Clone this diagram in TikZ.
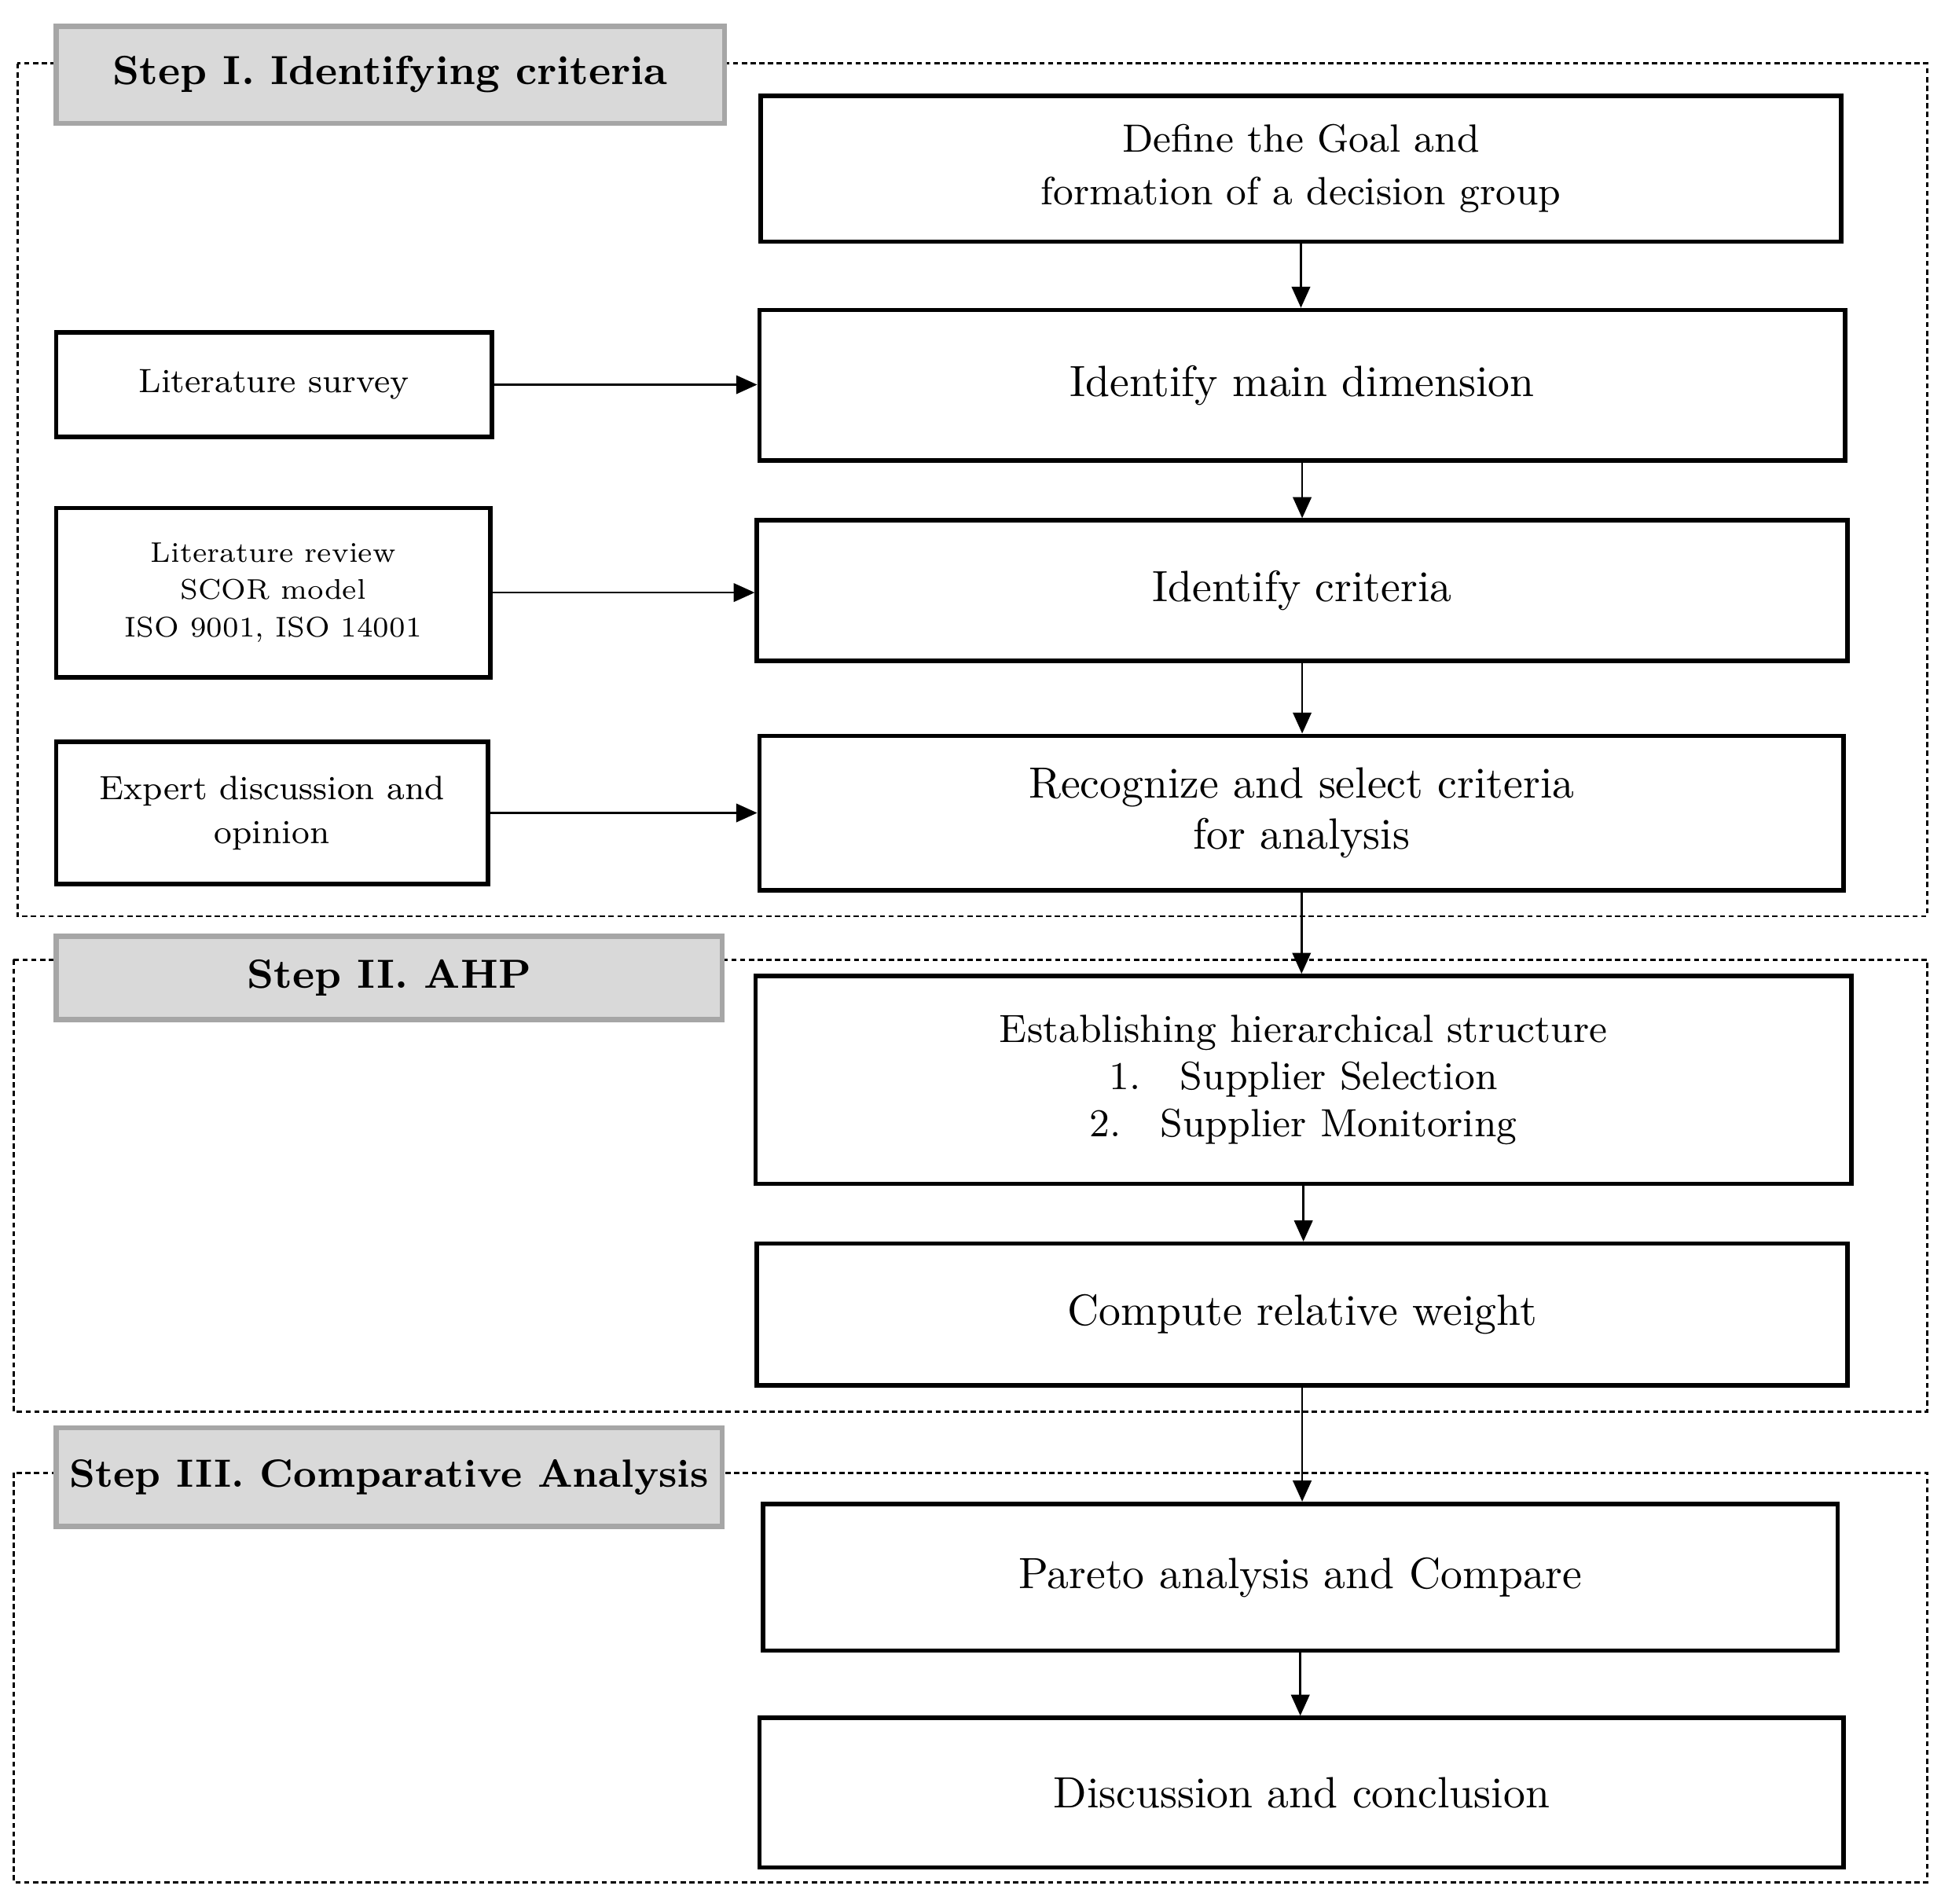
\documentclass[tikz,border=0pt]{standalone}
\usetikzlibrary{arrows.meta}
\definecolor{stepfill}{HTML}{D9D9D9}
\definecolor{stepline}{HTML}{A6A6A6}

\begin{document}
\begin{tikzpicture}[
        >={Triangle[length=4.8pt,width=4.2pt]},
        mainbox/.style={draw, line width=1pt, align=center, inner sep=0pt, font=\fontsize{10}{11.6}\selectfont},
        sidebox/.style={draw, line width=1pt, align=center, inner sep=0pt, font=\fontsize{7.7}{10}\selectfont},
        stepbox/.style={draw=stepline, fill=stepfill, line width=1.2pt, inner sep=0pt, font=\fontsize{9.3}{11}\selectfont\bfseries},
        frame/.style={dash pattern=on 1.2pt off 0.8pt, line width=0.5pt},
        link/.style={->, line width=0.5pt}
    ]
                \useasboundingbox (0cm,0cm) rectangle (15.68cm,-15.29cm);

                % draw the dashed frames of the three steps
                \draw[frame] (0.14cm,-0.51cm) rectangle (15.48cm,-7.36cm);
                \draw[frame] (0.11cm,-7.71cm) rectangle (15.48cm,-11.34cm);
                \draw[frame] (0.11cm,-11.83cm) rectangle (15.48cm,-15.12cm);

                % step titles
                \node[stepbox, minimum width=5.37cm, minimum height=0.78cm] (stepI) at (3.135cm,-0.60cm) {Step I. Identifying criteria};
                \node[stepbox, minimum width=5.35cm, minimum height=0.67cm] (stepII) at (3.125cm,-7.855cm) {Step II. AHP};
                \node[stepbox, minimum width=5.35cm, minimum height=0.79cm, font=\fontsize{9}{11}\selectfont\bfseries] (stepIII) at (3.125cm,-11.865cm) {Step III. Comparative Analysis};

                % main flow
                \node[mainbox, minimum width=8.68cm, minimum height=1.17cm, font=\fontsize{9}{12}\selectfont] (goal) at (10.45cm,-1.355cm) {Define the Goal and\\formation of a decision group};
                \node[mainbox, minimum width=8.72cm, minimum height=1.21cm] (dim) at (10.46cm,-3.095cm) {Identify main dimension};
                \node[mainbox, minimum width=8.76cm, minimum height=1.13cm] (crit) at (10.46cm,-4.745cm) {Identify criteria};
                \node[mainbox, minimum width=8.71cm, minimum height=1.24cm] (recog) at (10.455cm,-6.53cm) {Recognize and select criteria\\for analysis};
                \node[mainbox, minimum width=8.80cm, minimum height=1.67cm, font=\fontsize{9}{10.8}\selectfont] (hier) at (10.47cm,-8.675cm) {Establishing hierarchical structure\\1.\quad Supplier Selection\\2.\quad Supplier Monitoring};
                \node[mainbox, minimum width=8.76cm, minimum height=1.14cm] (weight) at (10.46cm,-10.56cm) {Compute relative weight};
                \node[mainbox, minimum width=8.63cm, minimum height=1.18cm] (pareto) at (10.445cm,-12.67cm) {Pareto analysis and Compare};
                \node[mainbox, minimum width=8.71cm, minimum height=1.20cm] (concl) at (10.455cm,-14.40cm) {Discussion and conclusion};

                % inputs on the left
                \node[sidebox, minimum width=3.50cm, minimum height=0.84cm] (survey) at (2.20cm,-3.09cm) {Literature survey};
                \node[sidebox, minimum width=3.49cm, minimum height=1.36cm, font=\fontsize{6.5}{8.6}\selectfont] (review) at (2.195cm,-4.76cm) {Literature review\\SCOR model\\ISO 9001, ISO 14001};
                \node[sidebox, minimum width=3.47cm, minimum height=1.14cm] (expert) at (2.185cm,-6.53cm) {Expert discussion and\\opinion};

                % arrows
                \draw[link] (goal.south) -- (goal.south |- dim.north);
                \draw[link] (dim.south) -- (dim.south |- crit.north);
                \draw[link] (crit.south) -- (crit.south |- recog.north);
                \draw[link] (recog.south) -- (recog.south |- hier.north);
                \draw[link] (hier.south) -- (hier.south |- weight.north);
                \draw[link] (weight.south) -- (weight.south |- pareto.north);
                \draw[link] (pareto.south) -- (pareto.south |- concl.north);

                \draw[link] (survey.east) -- (survey.east -| dim.west);
                \draw[link] (review.east) -- (review.east -| crit.west);
                \draw[link] (expert.east) -- (expert.east -| recog.west);
            \end{tikzpicture}
\end{document}
